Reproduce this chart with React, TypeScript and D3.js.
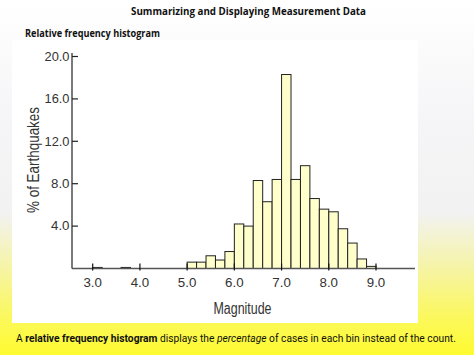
import React from "react";
import * as d3 from "d3";

const binStarts = [3.0, 3.6, 5.0, 5.2, 5.4, 5.6, 5.8, 6.0, 6.2, 6.4, 6.6, 6.8, 7.0, 7.2, 7.4, 7.6, 7.8, 8.0, 8.2, 8.4, 8.6, 8.8];
const percents = [0.1, 0.1, 0.6, 0.6, 1.2, 0.8, 1.6, 4.2, 4.0, 8.3, 6.3, 8.4, 18.3, 8.4, 9.7, 6.6, 5.6, 5.35, 3.75, 2.4, 0.9, 0.2];
const binWidth = 0.2;
const xTicks = [3.0, 4.0, 5.0, 6.0, 7.0, 8.0, 9.0];
const yTicks = [4.0, 8.0, 12.0, 16.0, 20.0];

const W = 474;
const H = 355;
const narrow = "'Liberation Sans', Arial, sans-serif";
const sans = "'Open Sans', 'Noto Sans', sans-serif";
const capFont = "Roboto, 'Open Sans', sans-serif";

export default function App() {
  const x = d3.scaleLinear().domain([3.0, 9.0]).range([92.7, 376]);
  const y = d3.scaleLinear().domain([0, 20]).range([268.5, 56.5]);
  const axisLeft = 72;
  const axisRight = 415;
  const base = y(0);

  return (
    <div style={{ position: "absolute", left: 0, top: 0, margin: 0 }}>
      <svg width={W} height={H} style={{ display: "block" }}>
        <defs>
          <linearGradient id="bg" x1="0" y1="0" x2="0" y2="1">
            <stop offset="0" stopColor="#ffffff" />
            <stop offset="0.35" stopColor="#f5f5f7" />
            <stop offset="0.6" stopColor="#f2f2f2" />
            <stop offset="0.75" stopColor="#f6f4a8" />
            <stop offset="0.9" stopColor="#fbf85a" />
            <stop offset="1" stopColor="#fffb30" />
          </linearGradient>
        </defs>
        <rect x={0} y={0} width={W} height={H} fill="url(#bg)" />
        <rect x={12} y={40} width={406} height={283} fill="#ffffff" />

        <text x={248.5} y={14.5} textAnchor="middle" fontFamily={sans} fontWeight="bold" fontSize={10.4} fill="#111" textLength={235} lengthAdjust="spacingAndGlyphs">
          Summarizing and Displaying Measurement Data
        </text>
        <text x={25} y={36.5} fontFamily={sans} fontWeight="bold" fontSize={10} fill="#111" textLength={135} lengthAdjust="spacingAndGlyphs">
          Relative frequency histogram
        </text>

        {binStarts.map((s, i) => {
          const x0 = x(s);
          const x1 = x(s + binWidth);
          const yt = y(percents[i]);
          return (
            <rect
              key={i}
              x={x0}
              y={yt}
              width={x1 - x0}
              height={base - yt}
              fill="#ffffcc"
              stroke="#222"
              strokeWidth={1}
            />
          );
        })}

        <line x1={axisLeft} y1={53} x2={axisLeft} y2={base} stroke="#222" strokeWidth={1.2} />
        <line x1={axisLeft} y1={base} x2={axisRight} y2={base} stroke="#555" strokeWidth={1.4} />

        {yTicks.map((t) => (
          <g key={t}>
            <line x1={axisLeft} x2={axisLeft + 6} y1={y(t)} y2={y(t)} stroke="#222" strokeWidth={1.2} />
            <text x={axisLeft - 2.5} y={y(t)} dy="0.35em" textAnchor="end" fontFamily={narrow} fontSize={12.5} fill="#333" textLength={t >= 10 ? 25 : 18.5} lengthAdjust="spacingAndGlyphs">
              {t.toFixed(1)}
            </text>
          </g>
        ))}

        {xTicks.map((t) => (
          <g key={t}>
            <line x1={x(t)} x2={x(t)} y1={base - 5} y2={base + 2} stroke="#111" strokeWidth={1.2} />
            <text x={x(t)} y={283} dy="0.35em" textAnchor="middle" fontFamily={narrow} fontSize={12.5} fill="#333" textLength={18.5} lengthAdjust="spacingAndGlyphs">
              {t.toFixed(1)}
            </text>
          </g>
        ))}

        <text x={242.5} y={308} dy="0.35em" textAnchor="middle" fontFamily={narrow} fontSize={16} fill="#333" textLength={58} lengthAdjust="spacingAndGlyphs">
          Magnitude
        </text>
        <text
          transform={`translate(33,160) rotate(-90)`}
          dy="0.35em"
          textAnchor="middle"
          fontFamily={narrow}
          fontSize={16}
          fill="#333"
          textLength={106}
          lengthAdjust="spacingAndGlyphs"
        >
          % of Earthquakes
        </text>

        <text x={236} y={341.5} textAnchor="middle" fontFamily={capFont} fontSize={10.25} fill="#111">
          A <tspan fontWeight="bold">relative frequency histogram</tspan> displays the <tspan fontStyle="italic">percentage</tspan> of cases in each bin instead of the count.
        </text>
      </svg>
    </div>
  );
}
